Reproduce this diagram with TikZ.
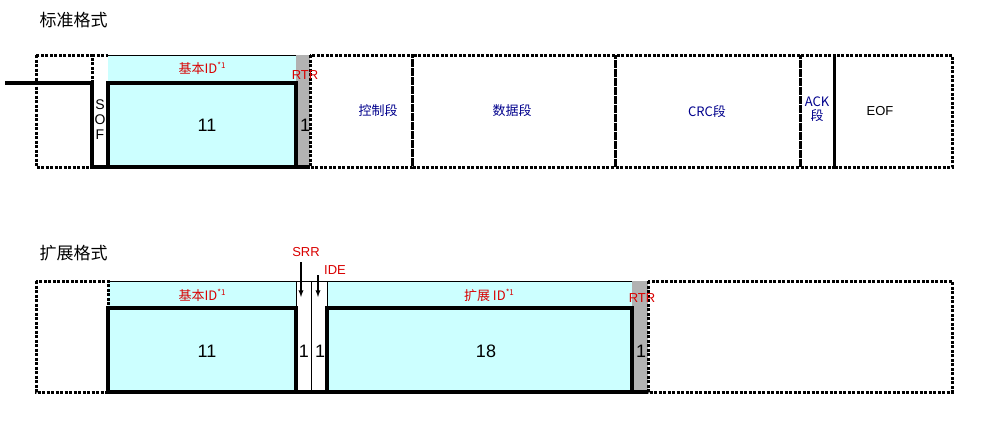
\documentclass[tikz,border=0pt]{standalone}
\usepackage{fontspec}
\setmainfont{Liberation Sans}
\newfontfamily\cjk{Noto Sans CJK SC}
\definecolor{lc}{HTML}{CCFFFF}
\newcommand{\supone}{\raisebox{5pt}{\fontsize{8}{8}\selectfont *1}}
\begin{document}
\begin{tikzpicture}[x=1pt,y=-1pt,
  dot/.style={line width=3pt,dash pattern=on 3pt off 1.5pt},
  thk/.style={line width=3.6pt},
  thn/.style={line width=1pt},
  red/.style={text=red!85!black,font=\cjk\fontsize{13}{14}\selectfont},
  blu/.style={text=blue!55!black,font=\cjk\fontsize{13}{14}\selectfont},
  num/.style={font=\fontsize{18}{20}\selectfont}]
\useasboundingbox (0,0) rectangle (1008,429);
\node[font=\cjk\fontsize{17}{19}\selectfont,anchor=west] (t1) at (36,20) {标准格式};
\node[font=\cjk\fontsize{17}{19}\selectfont,anchor=west] (t2) at (36,253) {扩展格式};
% ---- standard
\fill[lc] (108,55) rectangle (296,167);
\fill[gray!60] (296,55) rectangle (310,167);
\draw[thn] (108,55) -- (296,55);
\draw[dot] (36,55) rectangle (92,167);
\draw[dot] (92,55) -- (108,55);
\draw[dot] (310,55) rectangle (412,167);
\draw[dot] (412,55) rectangle (615,167);
\draw[dot] (615,55) rectangle (800,167);
\draw[dot] (800,55) rectangle (834,167);
\draw[dot] (834,55) rectangle (952,167);
\draw[thk] (5,83) -- (92,83) -- (92,167) -- (310,167);
\draw[thk] (108,167) -- (108,83) -- (296,83) -- (296,167);
\node[red] (b1) at (202,68) {基本ID\supone};
\node[red,font=\fontsize{13}{14}\selectfont] (r1) at (305,75) {RTR};
\node[num] (n11) at (207,125) {11};
\node[num] (n1) at (305,125) {1};
\node[align=center,font=\fontsize{14}{15}\selectfont,inner sep=0pt] (sof) at (100,120) {S\\[0pt]O\\[0pt]F};
\node[blu] (c) at (378,111) {控制段};
\node[blu] (d) at (512,111) {数据段};
\node[blu] (crc) at (707,112) {CRC段};
\node[blu,align=center,inner sep=0pt] (ack) at (817,109) {ACK\\段};
\node[font=\fontsize{13}{14}\selectfont] (eof) at (880,111) {EOF};
% ---- extended
\fill[lc] (108,281) rectangle (296,392);
\fill[lc] (327,281) rectangle (632,392);
\fill[gray!60] (632,281) rectangle (648,392);
\draw[dot] (36,281) rectangle (108,392);
\draw[dot] (648,281) rectangle (952,392);
\draw[thn] (108,281) -- (632,281);
\draw[thn] (311,281) -- (311,392);
\draw[thn] (296,281) -- (296,308);
\draw[thn] (327,281) -- (327,308);
\draw[thk] (108,392) -- (648,392);
\draw[thk] (108,392) -- (108,308) -- (296,308) -- (296,392);
\draw[thk] (327,392) -- (327,308) -- (632,308) -- (632,392);
\node[red] (b2) at (202,295) {基本ID\supone};
\node[red] (e2) at (489,295) {扩展 ID\supone};
\node[red,font=\fontsize{13}{14}\selectfont] (r2) at (642,298) {RTR};
\node[red,font=\fontsize{13}{14}\selectfont] (srr) at (306,252) {SRR};
\node[red,font=\fontsize{13}{14}\selectfont] (ide) at (335,270) {IDE};
\coordinate (sa) at (301,262); \coordinate (sb) at (301,297);
\coordinate (ia) at (318,275); \coordinate (ib) at (318,297);
\draw[-latex,line width=1.3pt] (sa) -- (sb);
\draw[-latex,line width=1.3pt] (ia) -- (ib);
\node[num] (m11) at (207,351) {11};
\node[num] (m1) at (304,351) {1};
\node[num] (m2) at (320,351) {1};
\node[num] (m18) at (486,351) {18};
\node[num] (m3) at (641,351) {1};
\end{tikzpicture}
\end{document}
